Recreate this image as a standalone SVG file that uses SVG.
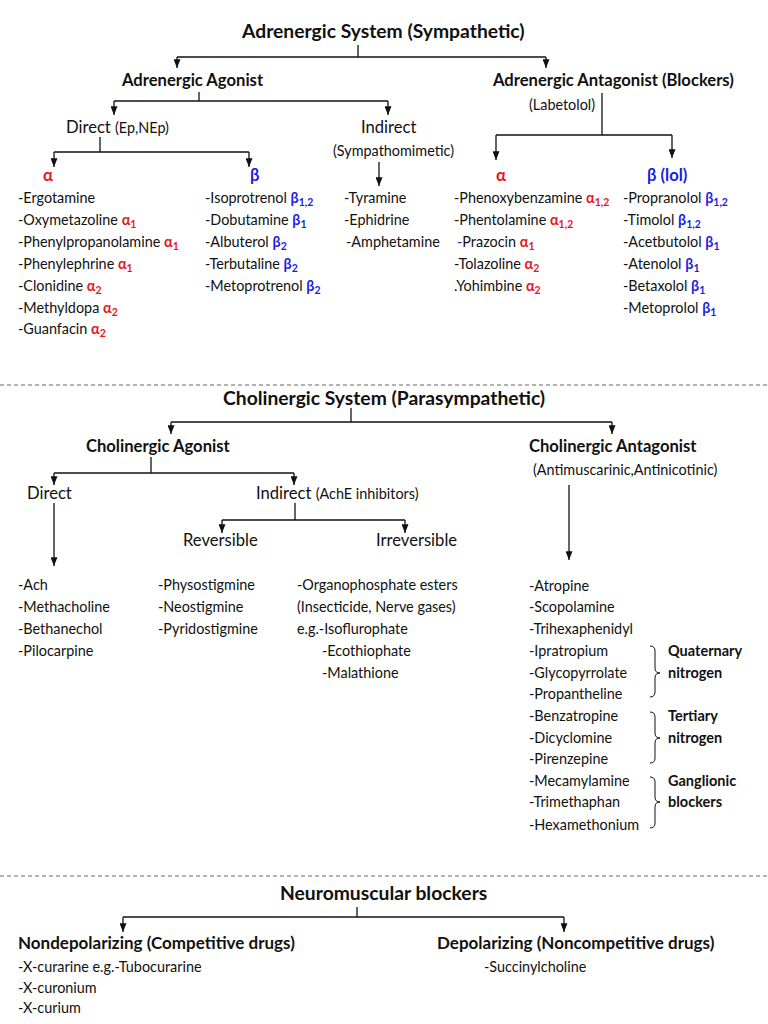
<svg xmlns="http://www.w3.org/2000/svg" width="768" height="1024" viewBox="0 0 768 1024">
<style>
text{font-family:Lato,"Open Sans","Liberation Sans",sans-serif;fill:#111}
.h1{font-size:19.3px;font-weight:bold}
.h2{font-size:16.6px;font-weight:bold}
.h3{font-size:16.6px}
.sm{font-size:14.4px}
.it{font-size:14.4px}
.lb{font-size:14.5px;font-weight:bold}
.r{fill:#e8161c;font-weight:bold}
.b{fill:#1c1ce0;font-weight:bold}
.sub{font-size:10.5px}
.ga{font-size:17px;font-weight:bold}
.con line{stroke:#111;stroke-width:1.3;fill:none}
.dash{stroke:#666;stroke-width:1;stroke-dasharray:4 3}
.brace{stroke:#111;stroke-width:1;fill:none}
</style>
<defs>
<marker id="ah" viewBox="0 0 10 8" refX="10" refY="4" markerWidth="9" markerHeight="7" markerUnits="userSpaceOnUse" orient="auto">
<path d="M0,0 L10,4 L0,8 z" fill="#111"/>
</marker>
</defs>

<g id="separators">
<line class="dash" x1="0" y1="385" x2="768" y2="385"/>
<line class="dash" x1="0" y1="876" x2="768" y2="876"/>
</g>

<g class="con" id="connectors">
<line x1="358" y1="45" x2="358" y2="57"/>
<line x1="177" y1="57" x2="546" y2="57"/>
<line x1="177" y1="57" x2="177" y2="68" marker-end="url(#ah)"/>
<line x1="546" y1="57" x2="546" y2="68" marker-end="url(#ah)"/>
<line x1="199" y1="92" x2="199" y2="101"/>
<line x1="114" y1="101" x2="388" y2="101"/>
<line x1="114" y1="101" x2="114" y2="115" marker-end="url(#ah)"/>
<line x1="388" y1="101" x2="388" y2="115" marker-end="url(#ah)"/>
<line x1="100" y1="137" x2="100" y2="152"/>
<line x1="54" y1="152" x2="249" y2="152"/>
<line x1="54" y1="152" x2="54" y2="167" marker-end="url(#ah)"/>
<line x1="249" y1="152" x2="249" y2="167" marker-end="url(#ah)"/>
<line x1="379" y1="162" x2="379" y2="186" marker-end="url(#ah)"/>
<line x1="602" y1="93" x2="602" y2="135"/>
<line x1="496" y1="135" x2="672" y2="135"/>
<line x1="496" y1="135" x2="496" y2="160" marker-end="url(#ah)"/>
<line x1="672" y1="135" x2="672" y2="158" marker-end="url(#ah)"/>
<line x1="351" y1="408" x2="351" y2="422"/>
<line x1="171" y1="422" x2="612" y2="422"/>
<line x1="171" y1="422" x2="171" y2="434" marker-end="url(#ah)"/>
<line x1="612" y1="422" x2="612" y2="434" marker-end="url(#ah)"/>
<line x1="151" y1="457" x2="151" y2="473"/>
<line x1="54" y1="473" x2="294" y2="473"/>
<line x1="54" y1="473" x2="54" y2="485" marker-end="url(#ah)"/>
<line x1="294" y1="473" x2="294" y2="485" marker-end="url(#ah)"/>
<line x1="295" y1="503" x2="295" y2="520"/>
<line x1="222" y1="520" x2="405" y2="520"/>
<line x1="222" y1="520" x2="222" y2="533" marker-end="url(#ah)"/>
<line x1="405" y1="520" x2="405" y2="533" marker-end="url(#ah)"/>
<line x1="54" y1="503" x2="54" y2="566" marker-end="url(#ah)"/>
<line x1="569" y1="485" x2="569" y2="560" marker-end="url(#ah)"/>
<line x1="357" y1="907" x2="357" y2="917"/>
<line x1="123" y1="917" x2="564" y2="917"/>
<line x1="123" y1="917" x2="123" y2="932" marker-end="url(#ah)"/>
<line x1="564" y1="917" x2="564" y2="932" marker-end="url(#ah)"/>
</g>

<g id="adrenergic-system"><text class="h1" x="242" y="38">Adrenergic System (Sympathetic)</text></g>
<g id="adrenergic-agonist"><text class="h2" x="122" y="86">Adrenergic Agonist</text></g>
<g id="adrenergic-antagonist">
<text class="h2" x="493" y="86">Adrenergic Antagonist (Blockers)</text>
<text class="sm" x="529" y="110">(Labetolol)</text>
</g>
<g id="direct-adr"><text class="h3" x="66" y="133">Direct <tspan class="sm">(Ep,NEp)</tspan></text></g>
<g id="indirect-adr">
<text class="h3" x="361" y="133">Indirect</text>
<text class="sm" x="333" y="156">(Sympathomimetic)</text>
</g>
<g id="alpha-agonist">
<text class="h3 r" x="43" y="181">α</text>
<text class="it" x="18" y="203">-Ergotamine</text>
<text class="it" x="18" y="225">-Oxymetazoline <tspan class="r">α<tspan class="sub" dy="3">1</tspan></tspan></text>
<text class="it" x="18" y="247">-Phenylpropanolamine <tspan class="r">α<tspan class="sub" dy="3">1</tspan></tspan></text>
<text class="it" x="18" y="269">-Phenylephrine <tspan class="r">α<tspan class="sub" dy="3">1</tspan></tspan></text>
<text class="it" x="18" y="291">-Clonidine <tspan class="r">α<tspan class="sub" dy="3">2</tspan></tspan></text>
<text class="it" x="18" y="313">-Methyldopa <tspan class="r">α<tspan class="sub" dy="3">2</tspan></tspan></text>
<text class="it" x="18" y="334">-Guanfacin <tspan class="r">α<tspan class="sub" dy="3">2</tspan></tspan></text>
</g>
<g id="beta-agonist">
<text class="h3 b" x="250" y="181">β</text>
<text class="it" x="205" y="203">-Isoprotrenol <tspan class="b">β<tspan class="sub" dy="3">1,2</tspan></tspan></text>
<text class="it" x="205" y="225">-Dobutamine <tspan class="b">β<tspan class="sub" dy="3">1</tspan></tspan></text>
<text class="it" x="205" y="247">-Albuterol <tspan class="b">β<tspan class="sub" dy="3">2</tspan></tspan></text>
<text class="it" x="205" y="269">-Terbutaline <tspan class="b">β<tspan class="sub" dy="3">2</tspan></tspan></text>
<text class="it" x="205" y="291">-Metoprotrenol <tspan class="b">β<tspan class="sub" dy="3">2</tspan></tspan></text>
</g>
<g id="indirect-list">
<text class="it" x="344" y="203">-Tyramine</text>
<text class="it" x="344" y="225">-Ephidrine</text>
<text class="it" x="346" y="247">-Amphetamine</text>
</g>
<g id="alpha-antagonist">
<text class="h3 r" x="496" y="181">α</text>
<text class="it" x="454" y="203">-Phenoxybenzamine <tspan class="r">α<tspan class="sub" dy="3">1,2</tspan></tspan></text>
<text class="it" x="454" y="225">-Phentolamine <tspan class="r">α<tspan class="sub" dy="3">1,2</tspan></tspan></text>
<text class="it" x="457" y="247"><tspan fill="#1c1ce0">-</tspan>Prazocin <tspan class="r">α<tspan class="sub" dy="3">1</tspan></tspan></text>
<text class="it" x="454" y="269">-Tolazoline <tspan class="r">α<tspan class="sub" dy="3">2</tspan></tspan></text>
<text class="it" x="454" y="291">.Yohimbine <tspan class="r">α<tspan class="sub" dy="3">2</tspan></tspan></text>
</g>
<g id="beta-antagonist">
<text class="h3 b" x="647" y="181">β (lol)</text>
<text class="it" x="623" y="203">-Propranolol <tspan class="b">β<tspan class="sub" dy="3">1,2</tspan></tspan></text>
<text class="it" x="623" y="225">-Timolol <tspan class="b">β<tspan class="sub" dy="3">1,2</tspan></tspan></text>
<text class="it" x="623" y="247">-Acetbutolol <tspan class="b">β<tspan class="sub" dy="3">1</tspan></tspan></text>
<text class="it" x="623" y="269">-Atenolol <tspan class="b">β<tspan class="sub" dy="3">1</tspan></tspan></text>
<text class="it" x="623" y="291">-Betaxolol <tspan class="b">β<tspan class="sub" dy="3">1</tspan></tspan></text>
<text class="it" x="623" y="313">-Metoprolol <tspan class="b">β<tspan class="sub" dy="3">1</tspan></tspan></text>
</g>

<g id="cholinergic-system"><text class="h1" x="223" y="405">Cholinergic System (Parasympathetic)</text></g>
<g id="cholinergic-agonist"><text class="h2" x="86" y="452">Cholinergic Agonist</text></g>
<g id="cholinergic-antagonist">
<text class="h2" x="529" y="452">Cholinergic Antagonist</text>
<text class="sm" x="533" y="475">(Antimuscarinic,Antinicotinic)</text>
</g>
<g id="direct-chol"><text class="h3" x="27" y="499">Direct</text></g>
<g id="indirect-chol"><text class="h3" x="256" y="499">Indirect <tspan class="sm">(AchE inhibitors)</tspan></text></g>
<g id="reversible"><text class="h3" x="183" y="546">Reversible</text></g>
<g id="irreversible"><text class="h3" x="376" y="546">Irreversible</text></g>
<g id="direct-list">
<text class="it" x="18" y="590">-Ach</text>
<text class="it" x="18" y="612">-Methacholine</text>
<text class="it" x="18" y="634">-Bethanechol</text>
<text class="it" x="18" y="656">-Pilocarpine</text>
</g>
<g id="reversible-list">
<text class="it" x="158" y="590">-Physostigmine</text>
<text class="it" x="158" y="612">-Neostigmine</text>
<text class="it" x="158" y="634">-Pyridostigmine</text>
</g>
<g id="irreversible-list">
<text class="it" x="297" y="590">-Organophosphate esters</text>
<text class="it" x="297" y="612">(Insecticide, Nerve gases)</text>
<text class="it" x="297" y="634">e.g.-Isoflurophate</text>
<text class="it" x="322" y="656">-Ecothiophate</text>
<text class="it" x="322" y="678">-Malathione</text>
</g>
<g id="antagonist-list">
<text class="it" x="529" y="591">-Atropine</text>
<text class="it" x="529" y="612">-Scopolamine</text>
<text class="it" x="529" y="634">-Trihexaphenidyl</text>
<text class="it" x="529" y="656">-Ipratropium</text>
<text class="it" x="529" y="678">-Glycopyrrolate</text>
<text class="it" x="529" y="699">-Propantheline</text>
<text class="it" x="529" y="721">-Benzatropine</text>
<text class="it" x="529" y="743">-Dicyclomine</text>
<text class="it" x="529" y="764">-Pirenzepine</text>
<text class="it" x="529" y="786">-Mecamylamine</text>
<text class="it" x="529" y="807">-Trimethaphan</text>
<text class="it" x="529" y="830">-Hexamethonium</text>
</g>
<g id="quaternary">
<path class="brace" d="M650,646 Q655,646 655,651 L655,668 Q655,673 660,673 Q655,673 655,678 L655,692 Q655,697 650,697"/>
<text class="lb" x="668" y="656">Quaternary</text>
<text class="lb" x="668" y="678">nitrogen</text>
</g>
<g id="tertiary">
<path class="brace" d="M650,712 Q655,712 655,717 L655,733 Q655,738 660,738 Q655,738 655,743 L655,758 Q655,763 650,763"/>
<text class="lb" x="668" y="721">Tertiary</text>
<text class="lb" x="668" y="743">nitrogen</text>
</g>
<g id="ganglionic">
<path class="brace" d="M650,777 Q655,777 655,782 L655,797 Q655,802 660,802 Q655,802 655,807 L655,823 Q655,828 650,828"/>
<text class="lb" x="668" y="786">Ganglionic</text>
<text class="lb" x="668" y="807">blockers</text>
</g>

<g id="neuromuscular"><text class="h1" x="280" y="900">Neuromuscular blockers</text></g>
<g id="nondepolarizing">
<text class="ga" x="18" y="949">Nondepolarizing (Competitive drugs)</text>
<text class="it" x="18" y="972">-X-curarine e.g.-Tubocurarine</text>
<text class="it" x="18" y="993">-X-curonium</text>
<text class="it" x="18" y="1013">-X-curium</text>
</g>
<g id="depolarizing">
<text class="ga" x="437" y="949">Depolarizing (Noncompetitive drugs)</text>
<text class="it" x="484" y="972">-Succinylcholine</text>
</g>
</svg>
